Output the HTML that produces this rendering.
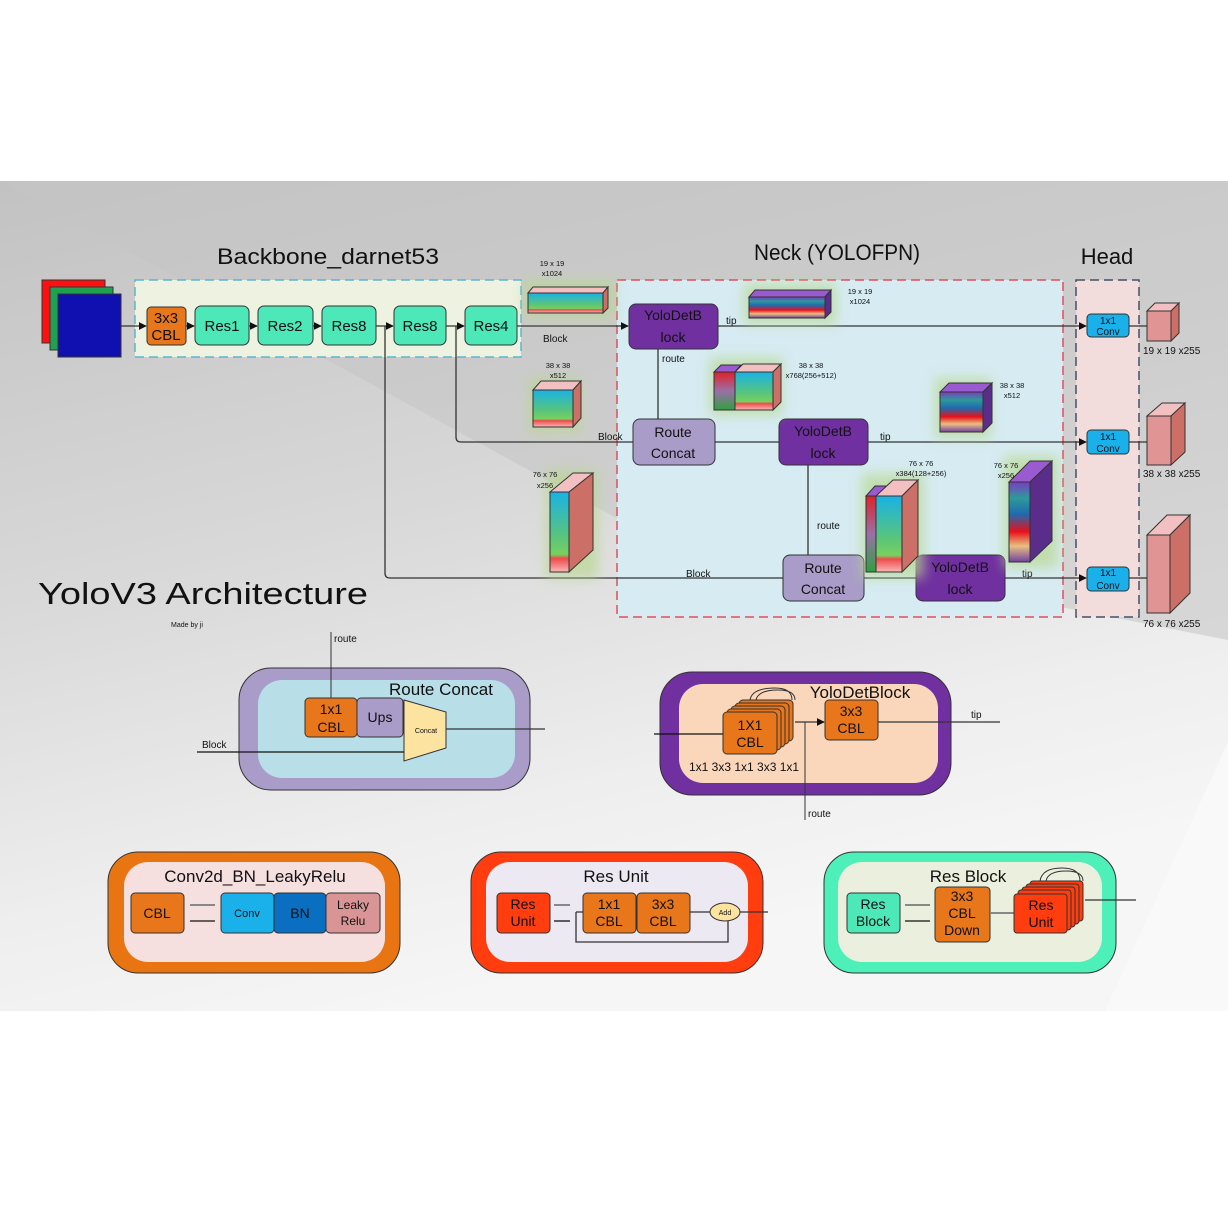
<!DOCTYPE html>
<html><head><meta charset="utf-8"><style>
html,body{margin:0;padding:0;background:#fff;}
svg{display:block;}
text{font-family:"Liberation Sans",sans-serif;fill:#111;}
</style></head><body>
<svg width="1228" height="1228" viewBox="0 0 1228 1228" xmlns="http://www.w3.org/2000/svg">
<defs>
<linearGradient id="bg" x1="0" y1="0" x2="0.35" y2="1">
<stop offset="0" stop-color="#c2c2c2"/><stop offset="0.45" stop-color="#d8d8d8"/><stop offset="0.8" stop-color="#eeeeee"/><stop offset="1" stop-color="#f6f6f6"/></linearGradient>
<linearGradient id="g1" x1="0" y1="0" x2="0" y2="1">
<stop offset="0" stop-color="#19b2e6"/><stop offset="0.55" stop-color="#58c47c"/><stop offset="0.78" stop-color="#78d060"/><stop offset="0.83" stop-color="#f04a4a"/><stop offset="1" stop-color="#f8b8b8"/></linearGradient>
<linearGradient id="g2" x1="0" y1="0" x2="0" y2="1">
<stop offset="0" stop-color="#7a3cc0"/><stop offset="0.2" stop-color="#2d9a9a"/><stop offset="0.4" stop-color="#1f6ab0"/><stop offset="0.62" stop-color="#e8101a"/><stop offset="0.8" stop-color="#e8c080"/><stop offset="1" stop-color="#7040a0"/></linearGradient>
<linearGradient id="g3" x1="0" y1="0" x2="0" y2="1">
<stop offset="0" stop-color="#e0202a"/><stop offset="0.5" stop-color="#9a70a8"/><stop offset="1" stop-color="#30a040"/></linearGradient>
<filter id="glow" x="-50%" y="-50%" width="200%" height="200%"><feGaussianBlur stdDeviation="6"/></filter>
<marker id="ar" viewBox="0 0 10 10" refX="9" refY="5" markerWidth="6" markerHeight="6" orient="auto"><path d="M0,0L10,5L0,10z" fill="#111"/></marker>
</defs>

<rect x="0" y="181" width="1228" height="830" fill="url(#bg)"/>
<polygon points="0,181 1228,181 1228,640 620,520" fill="#c4c4c4" opacity="0.55"/>
<polygon points="1228,742 1228,1011 1105,1011" fill="#fafafa" opacity="0.8"/>

<!-- titles -->
<text x="328" y="264" font-size="22" text-anchor="middle" textLength="222" lengthAdjust="spacingAndGlyphs">Backbone_darnet53</text>
<text x="837" y="260" font-size="22" text-anchor="middle" textLength="166" lengthAdjust="spacingAndGlyphs">Neck (YOLOFPN)</text>
<text x="1107" y="264" font-size="22" text-anchor="middle">Head</text>
<text x="38" y="604" font-size="31" textLength="330" lengthAdjust="spacingAndGlyphs">YoloV3 Architecture</text>
<text x="171" y="627" font-size="7" font-family="Liberation Serif">Made by ji</text>

<!-- containers -->
<rect x="135" y="280" width="386" height="77" fill="#eef2e0" stroke="#5ab4d4" stroke-width="1.5" stroke-dasharray="9,5"/>
<rect x="617" y="280" width="446" height="337" fill="#d6ebf2" stroke="#e0505a" stroke-width="1.5" stroke-dasharray="9,5"/>
<rect x="1076" y="280" width="63" height="337" fill="#f2dcdc" stroke="#445066" stroke-width="1.5" stroke-dasharray="9,5"/>

<!-- input -->
<rect x="42" y="280" width="63" height="63" fill="#ff1010" stroke="#333"/>
<rect x="50" y="287" width="63" height="63" fill="#20a050" stroke="#333"/>
<rect x="58" y="294" width="63" height="63" fill="#1010b0" stroke="#333"/>

<!-- lines -->
<g stroke="#333" stroke-width="1.3" fill="none">
<line x1="121" y1="326" x2="146" y2="326" marker-end="url(#ar)"/>
<line x1="186" y1="326" x2="194" y2="326" marker-end="url(#ar)"/>
<line x1="249" y1="326" x2="257" y2="326" marker-end="url(#ar)"/>
<line x1="313" y1="326" x2="321" y2="326" marker-end="url(#ar)"/>
<line x1="376" y1="326" x2="393" y2="326" marker-end="url(#ar)"/>
<line x1="446" y1="326" x2="464" y2="326" marker-end="url(#ar)"/>
<line x1="517" y1="326" x2="628" y2="326" marker-end="url(#ar)"/>
<path d="M385,326 V573 Q385,578 390,578 H783"/>
<path d="M456,326 V437 Q456,442 461,442 H633"/>
<line x1="718" y1="326" x2="1086" y2="326" marker-end="url(#ar)"/>
<line x1="715" y1="442" x2="779" y2="442"/>
<line x1="868" y1="442" x2="1086" y2="442" marker-end="url(#ar)"/>
<line x1="864" y1="578" x2="916" y2="578"/>
<line x1="1005" y1="578" x2="1086" y2="578" marker-end="url(#ar)"/>
<line x1="658" y1="349" x2="658" y2="419"/>
<line x1="808" y1="465" x2="808" y2="555"/>
<line x1="1129" y1="326" x2="1147" y2="326"/>
<line x1="1129" y1="442" x2="1147" y2="442"/>
<line x1="1129" y1="578" x2="1147" y2="578"/>
</g>

<!-- backbone boxes -->
<g stroke="#333" stroke-width="1">
<rect x="147" y="307" width="39" height="38" rx="4" fill="#e8761a"/>
<rect x="195" y="306" width="54" height="39" rx="6" fill="#4de8b8"/>
<rect x="258" y="306" width="55" height="39" rx="6" fill="#4de8b8"/>
<rect x="322" y="306" width="54" height="39" rx="6" fill="#4de8b8"/>
<rect x="394" y="306" width="52" height="39" rx="6" fill="#4de8b8"/>
<rect x="465" y="306" width="52" height="39" rx="6" fill="#4de8b8"/>
</g>
<g font-size="15" text-anchor="middle">
<text x="166" y="323" fill="#5a2a00">3x3</text><text x="166" y="340" fill="#5a2a00">CBL</text>
<text x="222" y="331">Res1</text><text x="285" y="331">Res2</text><text x="349" y="331">Res8</text>
<text x="420" y="331">Res8</text><text x="491" y="331">Res4</text>
</g>

<!-- neck boxes -->
<g stroke="#333" stroke-width="1">
<rect x="629" y="304" width="89" height="45" rx="7" fill="#7030a0"/>
<rect x="633" y="419" width="82" height="46" rx="7" fill="#a99cc8"/>
<rect x="779" y="419" width="89" height="46" rx="7" fill="#7030a0"/>
<rect x="783" y="555" width="81" height="46" rx="7" fill="#a99cc8"/>
<rect x="916" y="555" width="89" height="46" rx="7" fill="#7030a0"/>
</g>
<g font-size="14" text-anchor="middle">
<text x="673" y="320" fill="#1a0a26">YoloDetB</text><text x="673" y="342" fill="#1a0a26">lock</text>
<text x="673" y="437">Route</text><text x="673" y="458">Concat</text>
<text x="823" y="436" fill="#1a0a26">YoloDetB</text><text x="823" y="458" fill="#1a0a26">lock</text>
<text x="823" y="573">Route</text><text x="823" y="594">Concat</text>
<text x="960" y="572" fill="#1a0a26">YoloDetB</text><text x="960" y="594" fill="#1a0a26">lock</text>
</g>
<g font-size="10">
<text x="543" y="342">Block</text><text x="598" y="440">Block</text><text x="686" y="577">Block</text>
<text x="726" y="324">tip</text><text x="880" y="440">tip</text><text x="1022" y="577">tip</text>
<text x="662" y="362">route</text><text x="817" y="529">route</text>
</g>

<!-- head -->
<g stroke="#333" stroke-width="1">
<rect x="1087" y="314" width="42" height="23" rx="4" fill="#1ab0ea"/>
<rect x="1087" y="430" width="42" height="24" rx="4" fill="#1ab0ea"/>
<rect x="1087" y="567" width="42" height="24" rx="4" fill="#1ab0ea"/>
</g>
<g font-size="10" text-anchor="middle" fill="#033">
<text x="1108" y="324">1x1</text><text x="1108" y="335">Conv</text>
<text x="1108" y="440">1x1</text><text x="1108" y="452">Conv</text>
<text x="1108" y="576">1x1</text><text x="1108" y="589">Conv</text>
</g>
<!-- output cubes -->
<g stroke="#333" stroke-width="1">
<polygon points="1147,311 1155,303 1179,303 1171,311" fill="#f2c0c0"/>
<polygon points="1171,311 1179,303 1179,333 1171,341" fill="#cc6f66"/>
<rect x="1147" y="311" width="24" height="30" fill="#e09494"/>
<polygon points="1147,416 1162,403 1185,403 1171,416" fill="#f2c0c0"/>
<polygon points="1171,416 1185,403 1185,452 1171,465" fill="#cc6f66"/>
<rect x="1147" y="416" width="24" height="49" fill="#e09494"/>
<polygon points="1147,535 1167,515 1190,515 1170,535" fill="#f2c0c0"/>
<polygon points="1170,535 1190,515 1190,593 1170,613" fill="#cc6f66"/>
<rect x="1147" y="535" width="23" height="78" fill="#e09494"/>
</g>
<g font-size="10"><text x="1143" y="354">19 x 19 x255</text><text x="1143" y="477">38 x 38 x255</text><text x="1143" y="627">76 x 76 x255</text></g>

<!-- feature cubes -->
<g fill="#b8d890" opacity="0.7" filter="url(#glow)">
<rect x="524" y="280" width="90" height="38"/><rect x="529" y="378" width="52" height="55"/><rect x="546" y="470" width="52" height="108"/>
<rect x="744" y="284" width="92" height="40"/><rect x="710" y="358" width="72" height="57"/><rect x="935" y="378" width="56" height="60"/>
<rect x="862" y="474" width="62" height="104"/><rect x="1004" y="456" width="54" height="112"/>
</g>
<g stroke="#333" stroke-width="1">
<polygon points="528,293 533,287 608,287 603,293" fill="#f2c0c0"/>
<polygon points="603,293 608,287 608,308 603,313" fill="#cc6f66"/>
<rect x="528" y="293" width="75" height="20" fill="url(#g1)"/>
<polygon points="533,390 541,381 581,381 573,390" fill="#f2c0c0"/>
<polygon points="573,390 581,381 581,418 573,427" fill="#cc6f66"/>
<rect x="533" y="390" width="40" height="37" fill="url(#g1)"/>
<polygon points="550,492 573,473 593,473 569,492" fill="#f2c0c0"/>
<polygon points="569,492 593,473 593,550 569,572" fill="#cc6f66"/>
<rect x="550" y="492" width="19" height="80" fill="url(#g1)"/>
<polygon points="749,297 755,290 831,290 825,297" fill="#9a5ad0"/>
<polygon points="825,297 831,290 831,312 825,318" fill="#5a2d8a"/>
<rect x="749" y="297" width="76" height="21" fill="url(#g2)"/>
<polygon points="714,372 721,365 741,365 735,372" fill="#9a5ad0"/>
<rect x="714" y="372" width="21" height="38" fill="url(#g3)"/>
<polygon points="735,372 743,364 781,364 773,372" fill="#f2c0c0"/>
<polygon points="773,372 781,364 781,402 773,410" fill="#cc6f66"/>
<rect x="735" y="372" width="38" height="38" fill="url(#g1)"/>
<polygon points="940,392 949,383 992,383 983,392" fill="#9a5ad0"/>
<polygon points="983,392 992,383 992,423 983,432" fill="#5a2d8a"/>
<rect x="940" y="392" width="43" height="40" fill="url(#g2)"/>
<polygon points="866,496 875,486 887,486 876,496" fill="#9a5ad0"/>
<rect x="866" y="496" width="10" height="76" fill="url(#g3)"/>
<polygon points="876,496 893,480 918,480 902,496" fill="#f2c0c0"/>
<polygon points="902,496 918,480 918,556 902,572" fill="#cc6f66"/>
<rect x="876" y="496" width="26" height="76" fill="url(#g1)"/>
<polygon points="1009,482 1030,461 1052,461 1030,482" fill="#9a5ad0"/>
<polygon points="1030,482 1052,461 1052,541 1030,562" fill="#5a2d8a"/>
<rect x="1009" y="482" width="21" height="80" fill="url(#g2)"/>
</g>
<g font-size="7.5" text-anchor="middle">
<text x="552" y="266">19 x 19</text><text x="552" y="276">x1024</text>
<text x="558" y="368">38 x 38</text><text x="558" y="378">x512</text>
<text x="545" y="477">76 x 76</text><text x="545" y="488">x256</text>
<text x="860" y="294">19 x 19</text><text x="860" y="304">x1024</text>
<text x="811" y="368">38 x 38</text><text x="811" y="378">x768(256+512)</text>
<text x="1012" y="388">38 x 38</text><text x="1012" y="398">x512</text>
<text x="921" y="466">76 x 76</text><text x="921" y="476">x384(128+256)</text>
<text x="1006" y="468">76 x 76</text><text x="1006" y="478">x256</text>
</g>

<!-- Route Concat panel -->
<rect x="239" y="668" width="291" height="122" rx="32" fill="#a99cc8" stroke="#333"/>
<rect x="258" y="680" width="257" height="98" rx="24" fill="#b8dee8"/>
<text x="441" y="695" font-size="17" text-anchor="middle">Route Concat</text>
<line x1="331" y1="632" x2="331" y2="698" stroke="#333"/>
<text x="334" y="642" font-size="10">route</text>
<rect x="305" y="698" width="52" height="39" rx="4" fill="#e8761a" stroke="#333"/>
<rect x="357" y="698" width="46" height="39" rx="4" fill="#a99cc8" stroke="#333"/>
<polygon points="404,700 446,712 446,748 404,761" fill="#fde3a0" stroke="#333"/>
<line x1="197" y1="752" x2="404" y2="752" stroke="#111" stroke-width="1.3"/>
<line x1="446" y1="729" x2="545" y2="729" stroke="#333" stroke-width="1.3"/>
<text x="202" y="748" font-size="10">Block</text>
<g font-size="14" text-anchor="middle"><text x="331" y="714">1x1</text><text x="331" y="732">CBL</text><text x="380" y="722">Ups</text></g>
<text x="426" y="733" font-size="7" text-anchor="middle">Concat</text>

<!-- YoloDetBlock panel -->
<rect x="660" y="672" width="291" height="123" rx="32" fill="#7030a0" stroke="#333"/>
<rect x="679" y="684" width="259" height="99" rx="24" fill="#fad7bb"/>
<text x="860" y="698" font-size="17" text-anchor="middle">YoloDetBlock</text>
<line x1="654" y1="734" x2="723" y2="734" stroke="#111" stroke-width="1.3"/>
<g stroke="#333" fill="#e8761a">
<rect x="739" y="700" width="54" height="41" rx="4"/>
<rect x="735" y="703" width="54" height="41" rx="4"/>
<rect x="731" y="706" width="54" height="41" rx="4"/>
<rect x="727" y="709" width="54" height="41" rx="4"/>
<rect x="723" y="712" width="54" height="42" rx="4"/>
</g>
<path d="M750,700 Q752,688 775,688 Q792,688 792,700 M756,700 Q758,690 778,690 Q795,690 795,700" stroke="#333" fill="none"/>
<line x1="795" y1="722" x2="824" y2="722" stroke="#333" stroke-width="1.3" marker-end="url(#ar)"/>
<line x1="805" y1="722" x2="805" y2="820" stroke="#333"/>
<text x="808" y="817" font-size="10">route</text>
<rect x="825" y="700" width="53" height="40" rx="4" fill="#e8761a" stroke="#333"/>
<line x1="878" y1="722" x2="1000" y2="722" stroke="#333" stroke-width="1.3"/>
<text x="971" y="718" font-size="10">tip</text>
<g font-size="14" text-anchor="middle"><text x="750" y="730">1X1</text><text x="750" y="747">CBL</text><text x="851" y="716">3x3</text><text x="851" y="733">CBL</text></g>
<text x="689" y="771" font-size="12">1x1 3x3 1x1 3x3 1x1</text>

<!-- Conv2d panel -->
<rect x="108" y="852" width="292" height="121" rx="30" fill="#e87412" stroke="#333"/>
<rect x="124" y="862" width="261" height="100" rx="24" fill="#f6dfdf"/>
<text x="255" y="882" font-size="17" text-anchor="middle">Conv2d_BN_LeakyRelu</text>
<rect x="131" y="893" width="53" height="40" rx="4" fill="#e8761a" stroke="#333"/>
<line x1="190" y1="905" x2="215" y2="905" stroke="#888" stroke-width="2"/>
<line x1="190" y1="921" x2="215" y2="921" stroke="#111" stroke-width="1.3"/>
<rect x="221" y="893" width="53" height="40" rx="4" fill="#1ab0ea" stroke="#333"/>
<rect x="274" y="893" width="52" height="40" rx="4" fill="#0a6fc0" stroke="#333"/>
<rect x="326" y="893" width="54" height="40" rx="4" fill="#d99595" stroke="#333"/>
<g text-anchor="middle"><text x="157" y="918" font-size="14">CBL</text><text x="247" y="917" font-size="11">Conv</text><text x="300" y="918" font-size="14">BN</text><text x="353" y="909" font-size="12">Leaky</text><text x="353" y="925" font-size="12">Relu</text></g>

<!-- Res Unit panel -->
<rect x="471" y="852" width="292" height="121" rx="30" fill="#ff3d0f" stroke="#333"/>
<rect x="486" y="862" width="262" height="100" rx="24" fill="#ece9f2"/>
<text x="616" y="882" font-size="17" text-anchor="middle">Res Unit</text>
<rect x="497" y="893" width="53" height="40" rx="4" fill="#ff3d0f" stroke="#333"/>
<line x1="554" y1="905" x2="570" y2="905" stroke="#888" stroke-width="2"/>
<line x1="554" y1="921" x2="570" y2="921" stroke="#111" stroke-width="1.3"/>
<path d="M576,912 H583 M576,912 V942 H728 V921 M690,912 H710 M740,912 H768" stroke="#333" stroke-width="1.3" fill="none"/>
<rect x="583" y="893" width="53" height="40" rx="4" fill="#e8761a" stroke="#333"/>
<rect x="637" y="893" width="53" height="40" rx="4" fill="#e8761a" stroke="#333"/>
<ellipse cx="725" cy="912" rx="15" ry="9" fill="#fde3a0" stroke="#333"/>
<g text-anchor="middle" font-size="14"><text x="523" y="909" fill="#500">Res</text><text x="523" y="926" fill="#500">Unit</text><text x="609" y="909">1x1</text><text x="609" y="926">CBL</text><text x="663" y="909">3x3</text><text x="663" y="926">CBL</text></g>
<text x="725" y="915" font-size="7" text-anchor="middle">Add</text>

<!-- Res Block panel -->
<rect x="824" y="852" width="292" height="121" rx="30" fill="#4df0b8" stroke="#333"/>
<rect x="838" y="862" width="264" height="100" rx="24" fill="#eaf0dd"/>
<text x="968" y="882" font-size="17" text-anchor="middle">Res Block</text>
<rect x="847" y="893" width="53" height="40" rx="4" fill="#4de8b8" stroke="#333"/>
<line x1="905" y1="905" x2="930" y2="905" stroke="#888" stroke-width="2"/>
<line x1="905" y1="921" x2="930" y2="921" stroke="#111" stroke-width="1.3"/>
<rect x="935" y="887" width="55" height="55" rx="4" fill="#e8761a" stroke="#333"/>
<line x1="990" y1="913" x2="1014" y2="913" stroke="#888" stroke-width="2"/>
<g stroke="#333" fill="#ff3d0f">
<rect x="1030" y="881" width="53" height="40" rx="3"/>
<rect x="1026" y="884" width="53" height="40" rx="3"/>
<rect x="1022" y="887" width="53" height="40" rx="3"/>
<rect x="1018" y="890" width="53" height="40" rx="3"/>
<rect x="1014" y="894" width="53" height="39" rx="3"/>
</g>
<path d="M1040,881 Q1042,868 1062,868 Q1080,868 1080,881 M1046,881 Q1048,871 1066,871 Q1083,871 1083,881" stroke="#333" fill="none"/>
<line x1="1085" y1="900" x2="1136" y2="900" stroke="#333" stroke-width="1.3"/>
<g text-anchor="middle" font-size="14"><text x="873" y="909">Res</text><text x="873" y="926">Block</text><text x="962" y="901">3x3</text><text x="962" y="918">CBL</text><text x="962" y="935">Down</text><text x="1041" y="910" fill="#500">Res</text><text x="1041" y="927" fill="#500">Unit</text></g>
</svg>
</body></html>
